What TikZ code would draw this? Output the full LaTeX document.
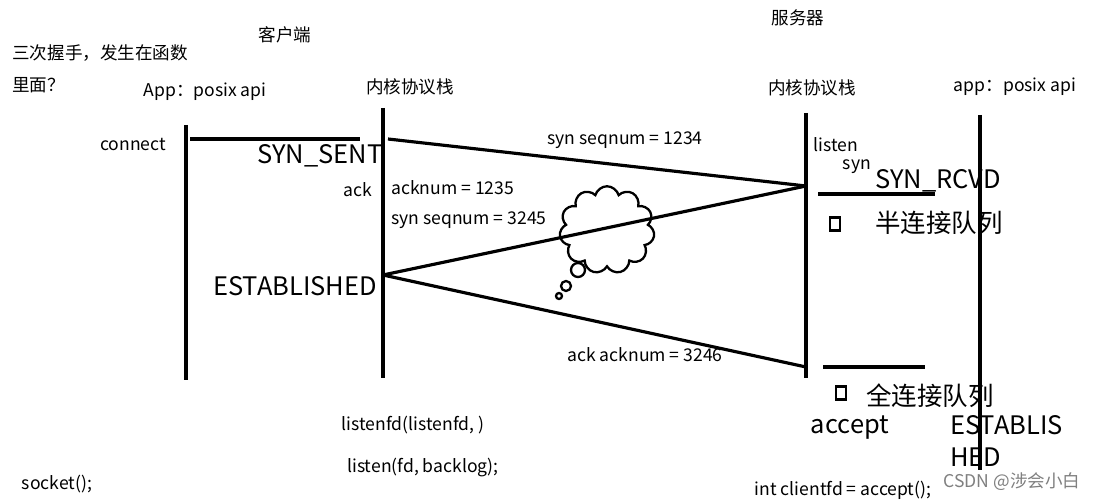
\documentclass[tikz,border=0pt]{standalone}
\usepackage{fontspec}
\setmainfont{Noto Sans CJK SC}
\usetikzlibrary{shapes.symbols}
\begin{document}
\begin{tikzpicture}[x=0.02cm,y=-0.02cm,
 t/.style={font=\fontsize{10}{12}\selectfont,inner sep=0pt},
 b/.style={font=\fontsize{14.5}{17}\selectfont,inner sep=0pt},
 ln/.style={line width=1.8pt},
 sq/.style={draw,line width=1.6pt,minimum width=0.2cm,minimum height=0.26cm,inner sep=0pt}]
\useasboundingbox[fill=white] (0,0) rectangle (1099,502);
\node[t,anchor=west] (n1) at (12,53) {三次握手，发生在函数};
\node[t,anchor=west] (n2) at (12,85) {里面？};
\node[t] (cl) at (285,35) {客户端};
\node[t] (sv) at (798,18) {服务器};
\node[t] (ca) at (205,92) {App：posix api};
\node[t] (ck) at (410,87) {内核协议栈};
\node[t] (sk) at (812,88) {内核协议栈};
\node[t] (sa) at (1015,87) {app：posix api};
\coordinate (a1) at (186,125); \coordinate (a2) at (186,380);
\coordinate (b1) at (383,108); \coordinate (b2) at (383,378);
\coordinate (c1) at (806,113); \coordinate (c2) at (806,378);
\coordinate (d1) at (980,115); \coordinate (d2) at (980,470);
\draw[ln] (a1)--(a2); \draw[ln] (b1)--(b2); \draw[ln] (c1)--(c2); \draw[ln] (d1)--(d2);
\node[t] (cn) at (133,145) {connect};
\coordinate (h1) at (190,139); \coordinate (h2) at (360,139);
\draw[ln] (h1)--(h2);
\node[b] (ss) at (320,156) {SYN\_SENT};
\coordinate (p1) at (388,139); \coordinate (p2) at (806,186);
\coordinate (p3) at (383,275); \coordinate (p4) at (806,367);
\draw[ln] (p1)--(p2); \draw[ln] (p2)--(p3); \draw[ln] (p3)--(p4);
\node[t] (l1) at (625,140) {syn seqnum = 1234};
\node[t] (ls) at (836,145) {listen};
\node[t] (sy) at (857,167) {syn};
\node[b] (sr) at (938,181) {SYN\_RCVD};
\coordinate (r1) at (818,194); \coordinate (r2) at (935,194);
\draw[ln] (r1)--(r2);
\node[sq] (q1) at (835,224) {};
\node[b,anchor=west] (hq) at (875,223) {半连接队列};
\node[t] (ak) at (358,190) {ack};
\node[t,anchor=west] (an) at (391,188) {acknum = 1235};
\node[t,anchor=west] (sn) at (391,220) {syn seqnum = 3245};
\node[b] (es) at (295,286) {ESTABLISHED};
\node[t] (l3) at (645,355) {ack acknum = 3246};
\coordinate (f1) at (823,367); \coordinate (f2) at (925,367);
\draw[ln] (f1)--(f2);
\node[sq] (q2) at (841,393) {};
\node[b,anchor=west] (fq) at (866,396) {全连接队列};
\node[b] (ac) at (850,428) {accept};
\node[b,anchor=west] (e1) at (950,425) {ESTABLIS};
\node[b,anchor=west] (e2) at (950,457) {HED};
\node[t] (lf) at (413,425) {listenfd(listenfd, )};
\node[t] (lb) at (423,468) {listen(fd, backlog);};
\node[t] (so) at (57,484) {socket();};
\node[t] (ic) at (843,490) {int clientfd = accept();};
\node[t,text=gray] (wm) at (1012,482) {CSDN @涉会小白};
\node[cloud,draw,line width=1.3pt,cloud puffs=11,aspect=1.1,minimum width=1.9cm,minimum height=1.75cm,fill=white,fill opacity=0] (cd) at (607,230) {};
\draw[line width=1.3pt] (578,270) circle (7);
\draw[line width=1.3pt] (566,286) circle (5);
\draw[line width=1.3pt] (559,296) circle (3);
\end{tikzpicture}
\end{document}
